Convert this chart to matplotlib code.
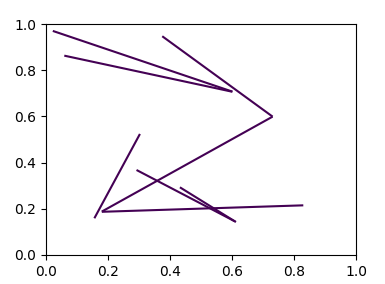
import matplotlib
matplotlib.use('Agg')
import matplotlib.pyplot as plt
from matplotlib.collections import LineCollection

# segment endpoints
x_start = [0.022, 0.059, 0.375, 0.731, 0.156, 0.180, 0.292, 0.432]
y_start = [0.970, 0.863, 0.947, 0.599, 0.159, 0.187, 0.368, 0.293]
x_end = [0.602, 0.600, 0.731, 0.180, 0.303, 0.830, 0.613, 0.610]
y_end = [0.707, 0.707, 0.599, 0.188, 0.524, 0.215, 0.143, 0.145]

segments = [[(x0, y0), (x1, y1)] for x0, y0, x1, y1 in zip(x_start, y_start, x_end, y_end)]

fig = plt.figure(figsize=(3.85, 2.84), dpi=100)
ax = fig.add_axes([46 / 385, 29 / 284, 310 / 385, 231 / 284])

lc = LineCollection(segments, colors='#440154', linewidths=1.5)
ax.add_collection(lc)
ax.set_xlim(0, 1)
ax.set_ylim(0, 1)

fig.savefig('out.png', dpi=100)
